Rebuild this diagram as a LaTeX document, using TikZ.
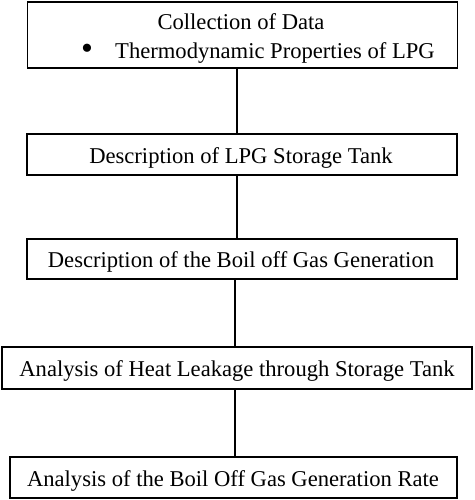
\documentclass[tikz,border=0pt]{standalone}
\usepackage{fontspec}
\setmainfont{Liberation Serif}
\begin{document}
\begin{tikzpicture}[x=1pt,y=-1pt,
  boxst/.style={draw=black,line width=1.5pt,fill=white,inner sep=0pt},
  lab/.style={font=\fontsize{22.6}{26}\selectfont,inner sep=0pt,anchor=base},
  conn/.style={draw=black,line width=1.5pt}]
\useasboundingbox (0,0) rectangle (474,500);
% boxes
\node[boxst,minimum width=430pt,minimum height=66pt] (b1) at (242.5,35) {};
\node[boxst,minimum width=430pt,minimum height=41pt] (b2) at (242,154.5) {};
\node[boxst,minimum width=430pt,minimum height=40pt] (b3) at (242,259) {};
\node[boxst,minimum width=470pt,minimum height=42pt] (b4) at (237,368) {};
\node[boxst,minimum width=447pt,minimum height=41pt] (b5) at (233.5,477.5) {};
% texts
\node[lab] (t1) at (241,30) {Collection of Data};
\node[lab,anchor=base west] (t1b) at (115,59) {Thermodynamic Properties of LPG};
\node[font=\fontsize{34}{36}\selectfont,inner sep=0pt] (bul) at (87,52) {•};
\node[lab] (t2) at (241,163) {Description of LPG Storage Tank};
\node[lab] (t3) at (241,267) {Description of the Boil off Gas Generation};
\node[lab] (t4) at (237,376) {Analysis of Heat Leakage through Storage Tank};
\node[lab] (t5) at (233,486) {Analysis of the Boil Off Gas Generation Rate};
% connectors
\draw[conn] (b1.south -| 237,0) -- (b2.north -| 237,0);
\draw[conn] (b2.south -| 237,0) -- (b3.north -| 237,0);
\draw[conn] (b3.south -| 235,0) -- (b4.north -| 235,0);
\draw[conn] (b4.south -| 235,0) -- (b5.north -| 235,0);
\end{tikzpicture}
\end{document}
